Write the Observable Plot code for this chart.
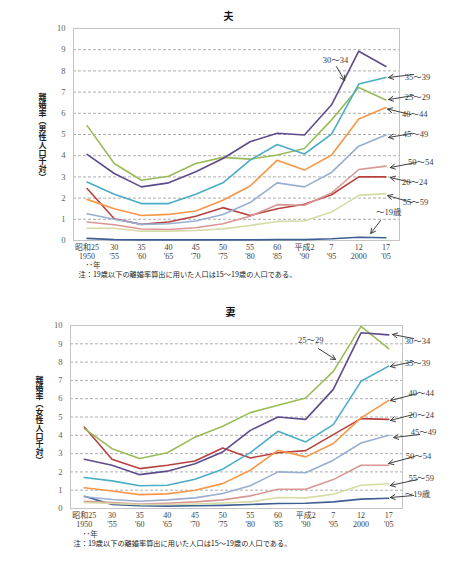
<!DOCTYPE html>
<html><head><meta charset="utf-8">
<script src="https://cdn.jsdelivr.net/npm/d3@7"></script>
<script src="https://cdn.jsdelivr.net/npm/@observablehq/plot@0.6"></script>
<style>body{margin:0;background:#fff} #chart svg{display:block}</style>
</head><body><div id="chart"></div>
<script>
const years = [1950,1955,1960,1965,1970,1975,1980,1985,1990,1995,2000,2005];
const yearLabels = ["昭和25\n1950","30\n'55","35\n'60","40\n'65","45\n'70","50\n'75","55\n'80","60\n'85","平成2\n'90","7\n'95","12\n2000","17\n'05"];
const ageGroups = ["～19歳","20～24","25～29","30～34","35～39","40～44","45～49","50～54","55～59"];
const yTicks = [0,1,2,3,4,5,6,7,8,9,10];

// 夫 (husband)
const husband19   = [0.10,0.04,0.03,0.03,0.03,0.03,0.03,0.04,0.04,0.08,0.15,0.13];
const husband2024 = [2.45,1.03,0.76,0.87,1.14,1.55,1.18,1.50,1.71,2.16,3.00,3.00];
const husband2529 = [5.42,3.63,2.84,3.03,3.63,3.92,3.84,4.03,4.34,5.69,7.22,6.63];
const husband3034 = [4.06,3.16,2.53,2.72,3.24,3.87,4.66,5.06,4.98,6.40,8.93,8.21];
const husband3539 = [2.76,2.18,1.74,1.74,2.18,2.72,3.79,4.53,4.08,5.02,7.38,7.69];
const husband4044 = [1.94,1.50,1.18,1.23,1.39,1.90,2.57,3.79,3.32,4.03,5.73,6.27];
const husband4549 = [1.26,1.00,0.76,0.79,0.92,1.23,1.79,2.72,2.53,3.21,4.45,4.98];
const husband5054 = [0.87,0.74,0.54,0.52,0.60,0.79,1.14,1.69,1.66,2.24,3.35,3.51];
const husband5559 = [0.58,0.58,0.44,0.44,0.47,0.55,0.71,0.90,0.92,1.34,2.13,2.21];

// 妻 (wife)
const wife19   = [0.67,0.22,0.15,0.13,0.15,0.17,0.22,0.27,0.29,0.36,0.51,0.56];
const wife2024 = [4.45,2.69,2.18,2.36,2.60,3.31,2.76,3.05,3.16,4.04,4.91,4.87];
const wife2529 = [4.36,3.27,2.73,3.05,3.90,4.49,5.24,5.64,6.04,7.49,9.95,8.73];
const wife3034 = [2.69,2.36,1.85,2.04,2.45,3.09,4.27,5.00,4.87,6.51,9.60,9.49];
const wife3539 = [1.69,1.51,1.24,1.27,1.60,2.15,3.05,4.22,3.64,4.58,6.95,7.78];
const wife4044 = [1.13,0.96,0.76,0.80,1.00,1.36,2.09,3.18,2.82,3.55,4.95,5.91];
const wife4549 = [0.64,0.49,0.40,0.47,0.58,0.82,1.24,2.00,1.95,2.64,3.58,4.00];
const wife5054 = [0.40,0.33,0.25,0.29,0.36,0.47,0.69,1.05,1.05,1.58,2.36,2.36];
const wife5559 = [0.33,0.27,0.22,0.22,0.25,0.30,0.36,0.60,0.58,0.78,1.27,1.35];

const seriesColors = ["#3d5f94","#b8413f","#9bbb59","#5f4b8b","#4bacc6","#f79646","#98aed3","#d99694","#d6dba6"];

const captionText = "注：19歳以下の離婚率算出に用いた人口は15～19歳の人口である。";

// label annotations (data coordinates: year, rate)
const husbandNotes = [
  {label:"35～39", tx:2010.8, ty:7.69, x1:2010.1, y1:7.83, x2:2005.5, y2:7.69, anchor:"start"},
  {label:"25～29", tx:2010.8, ty:6.75, x1:2010.1, y1:6.84, x2:2005.5, y2:6.65, anchor:"start"},
  {label:"40～44", tx:2010.3, ty:5.94, x1:2009.6, y1:5.94, x2:2005.3, y2:6.20, anchor:"start"},
  {label:"45～49", tx:2010.45, ty:5.00, x1:2009.8, y1:5.05, x2:2005.5, y2:4.86, anchor:"start"},
  {label:"50～54", tx:2011.4, ty:3.68, x1:2010.6, y1:3.68, x2:2005.8, y2:3.44, anchor:"start"},
  {label:"20～24", tx:2010.3, ty:2.74, x1:2009.6, y1:2.74, x2:2005.8, y2:2.97, anchor:"start"},
  {label:"55～59", tx:2010.45, ty:1.79, x1:2009.8, y1:1.79, x2:2005.3, y2:2.12, anchor:"start"},
  {label:"30～34", tx:1995.7, ty:8.49, x1:1995.9, y1:8.20, x2:1997.4, y2:7.55, anchor:"middle"},
  {label:"～19歳", tx:2005.5, ty:1.32, x1:2004.0, y1:0.94, x2:2002.2, y2:0.33, anchor:"middle"}
];
const wifeNotes = [
  {label:"30～34", tx:2010.2, ty:9.13, x1:2009.5, y1:9.29, x2:2005.7, y2:9.51, anchor:"start"},
  {label:"35～39", tx:2010.2, ty:7.92, x1:2009.5, y1:8.03, x2:2005.3, y2:7.76, anchor:"start"},
  {label:"40～44", tx:2010.9, ty:6.28, x1:2010.2, y1:6.28, x2:2005.3, y2:5.90, anchor:"start"},
  {label:"20～24", tx:2010.9, ty:5.08, x1:2009.5, y1:5.14, x2:2005.3, y2:4.81, anchor:"start"},
  {label:"45～49", tx:2011.3, ty:4.15, x1:2010.6, y1:4.04, x2:2005.9, y2:3.88, anchor:"start"},
  {label:"50～54", tx:2010.4, ty:2.84, x1:2009.7, y1:2.84, x2:2005.0, y2:2.46, anchor:"start"},
  {label:"55～59", tx:2010.9, ty:1.64, x1:2010.2, y1:1.58, x2:2005.3, y2:1.26, anchor:"start"},
  {label:"～19歳", tx:2010.2, ty:0.77, x1:2009.5, y1:0.71, x2:2005.3, y2:0.60, anchor:"start"},
  {label:"25～29", tx:1990.9, ty:9.18, x1:1992.3, y1:8.74, x2:1995.4, y2:8.14, anchor:"middle"}
];

const serif = '"Liberation Serif","Noto Sans CJK JP",serif';
const gothic = '"Noto Sans CJK JP",sans-serif';

function panel({title, ylabel, seriesList, notes, height, mt, mb, ml, mr, titleDy, titleDx, yearDy, capDx, capDy}) {
  const lineMarks = seriesList.map((vals, i) =>
    Plot.line(years.map((y, j) => ({year: y, rate: vals[j]})), {
      x: "year", y: "rate", stroke: seriesColors[i], strokeWidth: 1.6
    })
  );
  const svg = Plot.plot({
    width: 474, height,
    marginTop: mt, marginBottom: mb, marginLeft: ml, marginRight: mr,
    style: {fontFamily: serif, fontSize: "9px", color: "#404040", background: "#fff"},
    x: {domain: [1947.5, 2007.5]},
    y: {domain: [0, 10]},
    marks: [
      Plot.ruleY(yTicks.filter(t => t > 0 && t < 10), {stroke: "#9a9a9a", strokeDasharray: "3,2", strokeWidth: 0.8}),
      Plot.frame({stroke: "#c4c4c4"}),
      Plot.axisY({ticks: yTicks, tickSize: 0, tickPadding: 8, color: "#606060", label: null, fontSize: 8.5}),
      Plot.axisX({ticks: years, tickFormat: d => yearLabels[years.indexOf(d)], tickSize: 0, tickPadding: 3, lineHeight: 1.1, fontSize: 8, color: "#404040", label: null}),
      ...lineMarks,
      Plot.arrow(notes, {x1: "x1", y1: "y1", x2: "x2", y2: "y2", stroke: "#404040", strokeWidth: 1, headLength: 8, headAngle: 55}),
      Plot.text(notes, {x: "tx", y: "ty", text: "label", textAnchor: d => d.anchor, fill: "#404040", fontSize: 8.5}),
      Plot.text([title], {frameAnchor: "top", dy: titleDy, dx: titleDx, fontWeight: "bold", fontSize: 10, fontFamily: gothic, fill: "#111"}),
      Plot.text([ylabel], {frameAnchor: "left", dx: -31, fontWeight: "bold", fontSize: 8, fontFamily: gothic, fill: "#222"}),
      Plot.text(["･･年"], {x: years[0], frameAnchor: "bottom", dy: yearDy, dx: 6, fontSize: 7.5, fontFamily: gothic, fill: "#333"}),
      Plot.text([captionText], {frameAnchor: "bottom-left", textAnchor: "start", dx: capDx, dy: capDy, fontSize: 7.2, fontFamily: gothic, fill: "#222"})
    ]
  });
  d3.select(svg).selectAll("text")
    .filter(function() { return this.textContent === ylabel; })
    .attr("dy", null)
    .style("writing-mode", "vertical-rl")
    .style("text-orientation", "mixed")
    .attr("text-anchor", "middle");
  return svg;
}

const husbandSeries = [husband19, husband2024, husband2529, husband3034, husband3539, husband4044, husband4549, husband5054, husband5559];
const wifeSeries = [wife19, wife2024, wife2529, wife3034, wife3539, wife4044, wife4549, wife5054, wife5559];

const chart = document.getElementById("chart");
chart.append(panel({
  title: "夫", ylabel: "離婚率（男性人口千対）", seriesList: husbandSeries, notes: husbandNotes,
  height: 295, mt: 28, mb: 55, ml: 73, mr: 75, titleDy: -16, titleDx: -8, yearDy: 27.5, capDx: 5, capDy: 36
}));
chart.append(panel({
  title: "妻", ylabel: "離婚率（女性人口千対）", seriesList: wifeSeries, notes: wifeNotes,
  height: 266, mt: 30, mb: 53, ml: 70, mr: 72, titleDy: -17, titleDx: -6, yearDy: 28, capDx: 3, capDy: 37.5
}));
</script>
</body></html>
